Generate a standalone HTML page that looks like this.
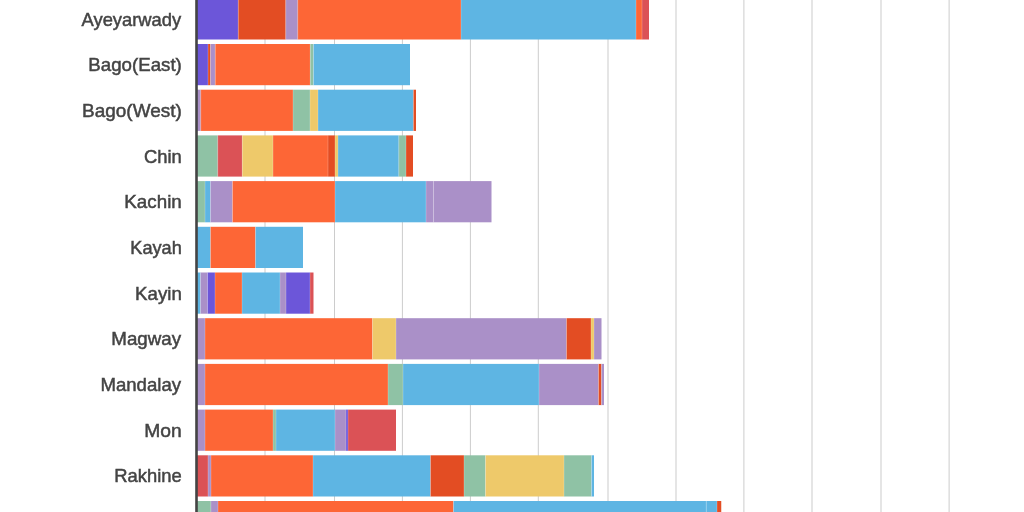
<!DOCTYPE html>
<html><head><meta charset="utf-8"><style>
html,body{margin:0;padding:0;background:#fff;width:1024px;height:512px;overflow:hidden}
svg{display:block}
text{font-family:"Liberation Sans",sans-serif;font-size:19px;fill:#444444;stroke:#444444;stroke-width:0.5px}
</style></head><body>
<svg style="will-change:transform" width="1024" height="512" viewBox="0 0 1024 512">
<rect x="264.50" y="0" width="1" height="512" fill="#cccccc"/>
<rect x="334.00" y="0" width="1" height="512" fill="#cccccc"/>
<rect x="401.90" y="0" width="1" height="512" fill="#cccccc"/>
<rect x="469.90" y="0" width="1" height="512" fill="#cccccc"/>
<rect x="537.80" y="0" width="1" height="512" fill="#cccccc"/>
<rect x="607.50" y="0" width="1" height="512" fill="#cccccc"/>
<rect x="675.50" y="0" width="1" height="512" fill="#cccccc"/>
<rect x="743.40" y="0" width="1" height="512" fill="#cccccc"/>
<rect x="811.50" y="0" width="1" height="512" fill="#cccccc"/>
<rect x="880.50" y="0" width="1" height="512" fill="#cccccc"/>
<rect x="948.60" y="0" width="1" height="512" fill="#cccccc"/>
<rect x="196.60" y="-1.70" width="41.65" height="41.2" fill="#6c56d9"/>
<rect x="238.25" y="-1.70" width="47.50" height="41.2" fill="#e34d23"/>
<rect x="285.75" y="-1.70" width="12.00" height="41.2" fill="#aa90c8"/>
<rect x="297.75" y="-1.70" width="163.25" height="41.2" fill="#fd6636"/>
<rect x="461.00" y="-1.70" width="175.00" height="41.2" fill="#5eb5e3"/>
<rect x="636.00" y="-1.70" width="6.00" height="41.2" fill="#fd6636"/>
<rect x="642.00" y="-1.70" width="7.00" height="41.2" fill="#db5256"/>
<rect x="237.75" y="-1.70" width="1" height="41.2" fill="#ffffff" fill-opacity="0.22"/>
<rect x="285.25" y="-1.70" width="1" height="41.2" fill="#ffffff" fill-opacity="0.22"/>
<rect x="297.25" y="-1.70" width="1" height="41.2" fill="#ffffff" fill-opacity="0.22"/>
<rect x="460.50" y="-1.70" width="1" height="41.2" fill="#ffffff" fill-opacity="0.22"/>
<rect x="635.50" y="-1.70" width="1" height="41.2" fill="#ffffff" fill-opacity="0.22"/>
<rect x="641.50" y="-1.70" width="1" height="41.2" fill="#ffffff" fill-opacity="0.22"/>
<text x="181.10" y="25.50" text-anchor="end" textLength="99.50" lengthAdjust="spacingAndGlyphs">Ayeyarwady</text>
<rect x="196.60" y="44.00" width="11.40" height="41.2" fill="#6c56d9"/>
<rect x="208.00" y="44.00" width="2.50" height="41.2" fill="#e34d23"/>
<rect x="210.50" y="44.00" width="4.75" height="41.2" fill="#aa90c8"/>
<rect x="215.25" y="44.00" width="95.00" height="41.2" fill="#fd6636"/>
<rect x="310.25" y="44.00" width="3.25" height="41.2" fill="#8fc2a5"/>
<rect x="313.50" y="44.00" width="96.50" height="41.2" fill="#5eb5e3"/>
<rect x="207.50" y="44.00" width="1" height="41.2" fill="#ffffff" fill-opacity="0.22"/>
<rect x="210.00" y="44.00" width="1" height="41.2" fill="#ffffff" fill-opacity="0.22"/>
<rect x="214.75" y="44.00" width="1" height="41.2" fill="#ffffff" fill-opacity="0.22"/>
<rect x="309.75" y="44.00" width="1" height="41.2" fill="#ffffff" fill-opacity="0.22"/>
<rect x="313.00" y="44.00" width="1" height="41.2" fill="#ffffff" fill-opacity="0.22"/>
<text x="181.80" y="71.20" text-anchor="end" textLength="93.50" lengthAdjust="spacingAndGlyphs">Bago(East)</text>
<rect x="196.60" y="89.70" width="4.15" height="41.2" fill="#aa90c8"/>
<rect x="200.75" y="89.70" width="92.25" height="41.2" fill="#fd6636"/>
<rect x="293.00" y="89.70" width="17.00" height="41.2" fill="#8fc2a5"/>
<rect x="310.00" y="89.70" width="8.00" height="41.2" fill="#eec96a"/>
<rect x="318.00" y="89.70" width="95.40" height="41.2" fill="#5eb5e3"/>
<rect x="413.40" y="89.70" width="2.60" height="41.2" fill="#e34d23"/>
<rect x="200.25" y="89.70" width="1" height="41.2" fill="#ffffff" fill-opacity="0.22"/>
<rect x="292.50" y="89.70" width="1" height="41.2" fill="#ffffff" fill-opacity="0.22"/>
<rect x="309.50" y="89.70" width="1" height="41.2" fill="#ffffff" fill-opacity="0.22"/>
<rect x="317.50" y="89.70" width="1" height="41.2" fill="#ffffff" fill-opacity="0.22"/>
<rect x="412.90" y="89.70" width="1" height="41.2" fill="#ffffff" fill-opacity="0.22"/>
<text x="181.80" y="116.90" text-anchor="end" textLength="99.70" lengthAdjust="spacingAndGlyphs">Bago(West)</text>
<rect x="196.60" y="135.40" width="21.15" height="41.2" fill="#8fc2a5"/>
<rect x="217.75" y="135.40" width="24.50" height="41.2" fill="#db5256"/>
<rect x="242.25" y="135.40" width="30.75" height="41.2" fill="#eec96a"/>
<rect x="273.00" y="135.40" width="55.00" height="41.2" fill="#fd6636"/>
<rect x="328.00" y="135.40" width="7.00" height="41.2" fill="#e34d23"/>
<rect x="335.00" y="135.40" width="3.00" height="41.2" fill="#eec96a"/>
<rect x="338.00" y="135.40" width="60.80" height="41.2" fill="#5eb5e3"/>
<rect x="398.80" y="135.40" width="7.20" height="41.2" fill="#8fc2a5"/>
<rect x="406.00" y="135.40" width="7.00" height="41.2" fill="#e34d23"/>
<rect x="217.25" y="135.40" width="1" height="41.2" fill="#ffffff" fill-opacity="0.22"/>
<rect x="241.75" y="135.40" width="1" height="41.2" fill="#ffffff" fill-opacity="0.22"/>
<rect x="272.50" y="135.40" width="1" height="41.2" fill="#ffffff" fill-opacity="0.22"/>
<rect x="327.50" y="135.40" width="1" height="41.2" fill="#ffffff" fill-opacity="0.22"/>
<rect x="334.50" y="135.40" width="1" height="41.2" fill="#ffffff" fill-opacity="0.22"/>
<rect x="337.50" y="135.40" width="1" height="41.2" fill="#ffffff" fill-opacity="0.22"/>
<rect x="398.30" y="135.40" width="1" height="41.2" fill="#ffffff" fill-opacity="0.22"/>
<rect x="405.50" y="135.40" width="1" height="41.2" fill="#ffffff" fill-opacity="0.22"/>
<text x="181.80" y="162.60" text-anchor="end" textLength="37.80" lengthAdjust="spacingAndGlyphs">Chin</text>
<rect x="196.60" y="181.10" width="8.40" height="41.2" fill="#8fc2a5"/>
<rect x="205.00" y="181.10" width="5.50" height="41.2" fill="#5eb5e3"/>
<rect x="210.50" y="181.10" width="22.00" height="41.2" fill="#aa90c8"/>
<rect x="232.50" y="181.10" width="102.50" height="41.2" fill="#fd6636"/>
<rect x="335.00" y="181.10" width="91.00" height="41.2" fill="#5eb5e3"/>
<rect x="426.00" y="181.10" width="7.50" height="41.2" fill="#aa90c8"/>
<rect x="433.50" y="181.10" width="58.00" height="41.2" fill="#aa90c8"/>
<rect x="204.50" y="181.10" width="1" height="41.2" fill="#ffffff" fill-opacity="0.22"/>
<rect x="210.00" y="181.10" width="1" height="41.2" fill="#ffffff" fill-opacity="0.22"/>
<rect x="232.00" y="181.10" width="1" height="41.2" fill="#ffffff" fill-opacity="0.22"/>
<rect x="334.50" y="181.10" width="1" height="41.2" fill="#ffffff" fill-opacity="0.22"/>
<rect x="425.50" y="181.10" width="1" height="41.2" fill="#ffffff" fill-opacity="0.22"/>
<rect x="433.00" y="181.10" width="1" height="41.2" fill="#ffffff" fill-opacity="0.22"/>
<text x="181.80" y="208.30" text-anchor="end" textLength="57.50" lengthAdjust="spacingAndGlyphs">Kachin</text>
<rect x="196.60" y="226.80" width="13.90" height="41.2" fill="#5eb5e3"/>
<rect x="210.50" y="226.80" width="45.00" height="41.2" fill="#fd6636"/>
<rect x="255.50" y="226.80" width="47.50" height="41.2" fill="#5eb5e3"/>
<rect x="210.00" y="226.80" width="1" height="41.2" fill="#ffffff" fill-opacity="0.22"/>
<rect x="255.00" y="226.80" width="1" height="41.2" fill="#ffffff" fill-opacity="0.22"/>
<text x="181.80" y="254.00" text-anchor="end" textLength="51.50" lengthAdjust="spacingAndGlyphs">Kayah</text>
<rect x="196.60" y="272.50" width="3.90" height="41.2" fill="#5eb5e3"/>
<rect x="200.50" y="272.50" width="7.00" height="41.2" fill="#aa90c8"/>
<rect x="207.50" y="272.50" width="7.50" height="41.2" fill="#6c56d9"/>
<rect x="215.00" y="272.50" width="27.00" height="41.2" fill="#fd6636"/>
<rect x="242.00" y="272.50" width="38.00" height="41.2" fill="#5eb5e3"/>
<rect x="280.00" y="272.50" width="6.00" height="41.2" fill="#aa90c8"/>
<rect x="286.00" y="272.50" width="24.00" height="41.2" fill="#6c56d9"/>
<rect x="310.00" y="272.50" width="3.50" height="41.2" fill="#db5256"/>
<rect x="200.00" y="272.50" width="1" height="41.2" fill="#ffffff" fill-opacity="0.22"/>
<rect x="207.00" y="272.50" width="1" height="41.2" fill="#ffffff" fill-opacity="0.22"/>
<rect x="214.50" y="272.50" width="1" height="41.2" fill="#ffffff" fill-opacity="0.22"/>
<rect x="241.50" y="272.50" width="1" height="41.2" fill="#ffffff" fill-opacity="0.22"/>
<rect x="279.50" y="272.50" width="1" height="41.2" fill="#ffffff" fill-opacity="0.22"/>
<rect x="285.50" y="272.50" width="1" height="41.2" fill="#ffffff" fill-opacity="0.22"/>
<rect x="309.50" y="272.50" width="1" height="41.2" fill="#ffffff" fill-opacity="0.22"/>
<text x="181.80" y="299.70" text-anchor="end" textLength="46.80" lengthAdjust="spacingAndGlyphs">Kayin</text>
<rect x="196.60" y="318.20" width="8.40" height="41.2" fill="#aa90c8"/>
<rect x="205.00" y="318.20" width="167.50" height="41.2" fill="#fd6636"/>
<rect x="372.50" y="318.20" width="23.50" height="41.2" fill="#eec96a"/>
<rect x="396.00" y="318.20" width="170.50" height="41.2" fill="#aa90c8"/>
<rect x="566.50" y="318.20" width="24.50" height="41.2" fill="#e34d23"/>
<rect x="591.00" y="318.20" width="3.00" height="41.2" fill="#eec96a"/>
<rect x="594.00" y="318.20" width="7.50" height="41.2" fill="#aa90c8"/>
<rect x="204.50" y="318.20" width="1" height="41.2" fill="#ffffff" fill-opacity="0.22"/>
<rect x="372.00" y="318.20" width="1" height="41.2" fill="#ffffff" fill-opacity="0.22"/>
<rect x="395.50" y="318.20" width="1" height="41.2" fill="#ffffff" fill-opacity="0.22"/>
<rect x="566.00" y="318.20" width="1" height="41.2" fill="#ffffff" fill-opacity="0.22"/>
<rect x="590.50" y="318.20" width="1" height="41.2" fill="#ffffff" fill-opacity="0.22"/>
<rect x="593.50" y="318.20" width="1" height="41.2" fill="#ffffff" fill-opacity="0.22"/>
<text x="181.10" y="345.40" text-anchor="end" textLength="69.80" lengthAdjust="spacingAndGlyphs">Magway</text>
<rect x="196.60" y="363.90" width="8.40" height="41.2" fill="#aa90c8"/>
<rect x="205.00" y="363.90" width="183.00" height="41.2" fill="#fd6636"/>
<rect x="388.00" y="363.90" width="15.00" height="41.2" fill="#8fc2a5"/>
<rect x="403.00" y="363.90" width="136.00" height="41.2" fill="#5eb5e3"/>
<rect x="539.00" y="363.90" width="59.50" height="41.2" fill="#aa90c8"/>
<rect x="598.50" y="363.90" width="3.00" height="41.2" fill="#e34d23"/>
<rect x="601.50" y="363.90" width="2.50" height="41.2" fill="#aa90c8"/>
<rect x="204.50" y="363.90" width="1" height="41.2" fill="#ffffff" fill-opacity="0.22"/>
<rect x="387.50" y="363.90" width="1" height="41.2" fill="#ffffff" fill-opacity="0.22"/>
<rect x="402.50" y="363.90" width="1" height="41.2" fill="#ffffff" fill-opacity="0.22"/>
<rect x="538.50" y="363.90" width="1" height="41.2" fill="#ffffff" fill-opacity="0.22"/>
<rect x="598.00" y="363.90" width="1" height="41.2" fill="#ffffff" fill-opacity="0.22"/>
<rect x="601.00" y="363.90" width="1" height="41.2" fill="#ffffff" fill-opacity="0.22"/>
<text x="181.10" y="391.10" text-anchor="end" textLength="80.70" lengthAdjust="spacingAndGlyphs">Mandalay</text>
<rect x="196.60" y="409.60" width="8.40" height="41.2" fill="#aa90c8"/>
<rect x="205.00" y="409.60" width="68.00" height="41.2" fill="#fd6636"/>
<rect x="273.00" y="409.60" width="3.00" height="41.2" fill="#8fc2a5"/>
<rect x="276.00" y="409.60" width="59.00" height="41.2" fill="#5eb5e3"/>
<rect x="335.00" y="409.60" width="11.00" height="41.2" fill="#aa90c8"/>
<rect x="346.00" y="409.60" width="2.00" height="41.2" fill="#6c56d9"/>
<rect x="348.00" y="409.60" width="48.00" height="41.2" fill="#db5256"/>
<rect x="204.50" y="409.60" width="1" height="41.2" fill="#ffffff" fill-opacity="0.22"/>
<rect x="272.50" y="409.60" width="1" height="41.2" fill="#ffffff" fill-opacity="0.22"/>
<rect x="275.50" y="409.60" width="1" height="41.2" fill="#ffffff" fill-opacity="0.22"/>
<rect x="334.50" y="409.60" width="1" height="41.2" fill="#ffffff" fill-opacity="0.22"/>
<rect x="345.50" y="409.60" width="1" height="41.2" fill="#ffffff" fill-opacity="0.22"/>
<rect x="347.50" y="409.60" width="1" height="41.2" fill="#ffffff" fill-opacity="0.22"/>
<text x="181.80" y="436.80" text-anchor="end" textLength="37.50" lengthAdjust="spacingAndGlyphs">Mon</text>
<rect x="196.60" y="455.30" width="11.40" height="41.2" fill="#db5256"/>
<rect x="208.00" y="455.30" width="3.00" height="41.2" fill="#aa90c8"/>
<rect x="211.00" y="455.30" width="102.00" height="41.2" fill="#fd6636"/>
<rect x="313.00" y="455.30" width="117.50" height="41.2" fill="#5eb5e3"/>
<rect x="430.50" y="455.30" width="33.50" height="41.2" fill="#e34d23"/>
<rect x="464.00" y="455.30" width="21.50" height="41.2" fill="#8fc2a5"/>
<rect x="485.50" y="455.30" width="78.50" height="41.2" fill="#eec96a"/>
<rect x="564.00" y="455.30" width="27.50" height="41.2" fill="#8fc2a5"/>
<rect x="591.50" y="455.30" width="2.50" height="41.2" fill="#5eb5e3"/>
<rect x="207.50" y="455.30" width="1" height="41.2" fill="#ffffff" fill-opacity="0.22"/>
<rect x="210.50" y="455.30" width="1" height="41.2" fill="#ffffff" fill-opacity="0.22"/>
<rect x="312.50" y="455.30" width="1" height="41.2" fill="#ffffff" fill-opacity="0.22"/>
<rect x="430.00" y="455.30" width="1" height="41.2" fill="#ffffff" fill-opacity="0.22"/>
<rect x="463.50" y="455.30" width="1" height="41.2" fill="#ffffff" fill-opacity="0.22"/>
<rect x="485.00" y="455.30" width="1" height="41.2" fill="#ffffff" fill-opacity="0.22"/>
<rect x="563.50" y="455.30" width="1" height="41.2" fill="#ffffff" fill-opacity="0.22"/>
<rect x="591.00" y="455.30" width="1" height="41.2" fill="#ffffff" fill-opacity="0.22"/>
<text x="181.80" y="481.70" text-anchor="end" textLength="67.50" lengthAdjust="spacingAndGlyphs">Rakhine</text>
<rect x="196.60" y="501.00" width="14.30" height="41.2" fill="#8fc2a5"/>
<rect x="210.90" y="501.00" width="7.10" height="41.2" fill="#aa90c8"/>
<rect x="218.00" y="501.00" width="235.50" height="41.2" fill="#fd6636"/>
<rect x="453.50" y="501.00" width="252.75" height="41.2" fill="#5eb5e3"/>
<rect x="706.25" y="501.00" width="10.75" height="41.2" fill="#5eb5e3"/>
<rect x="717.00" y="501.00" width="4.25" height="41.2" fill="#e34d23"/>
<rect x="210.40" y="501.00" width="1" height="41.2" fill="#ffffff" fill-opacity="0.22"/>
<rect x="217.50" y="501.00" width="1" height="41.2" fill="#ffffff" fill-opacity="0.22"/>
<rect x="453.00" y="501.00" width="1" height="41.2" fill="#ffffff" fill-opacity="0.22"/>
<rect x="705.75" y="501.00" width="1" height="41.2" fill="#ffffff" fill-opacity="0.22"/>
<rect x="716.50" y="501.00" width="1" height="41.2" fill="#ffffff" fill-opacity="0.22"/>
<rect x="195.2" y="0" width="2.6" height="512" fill="#444444"/>
</svg>
</body></html>
